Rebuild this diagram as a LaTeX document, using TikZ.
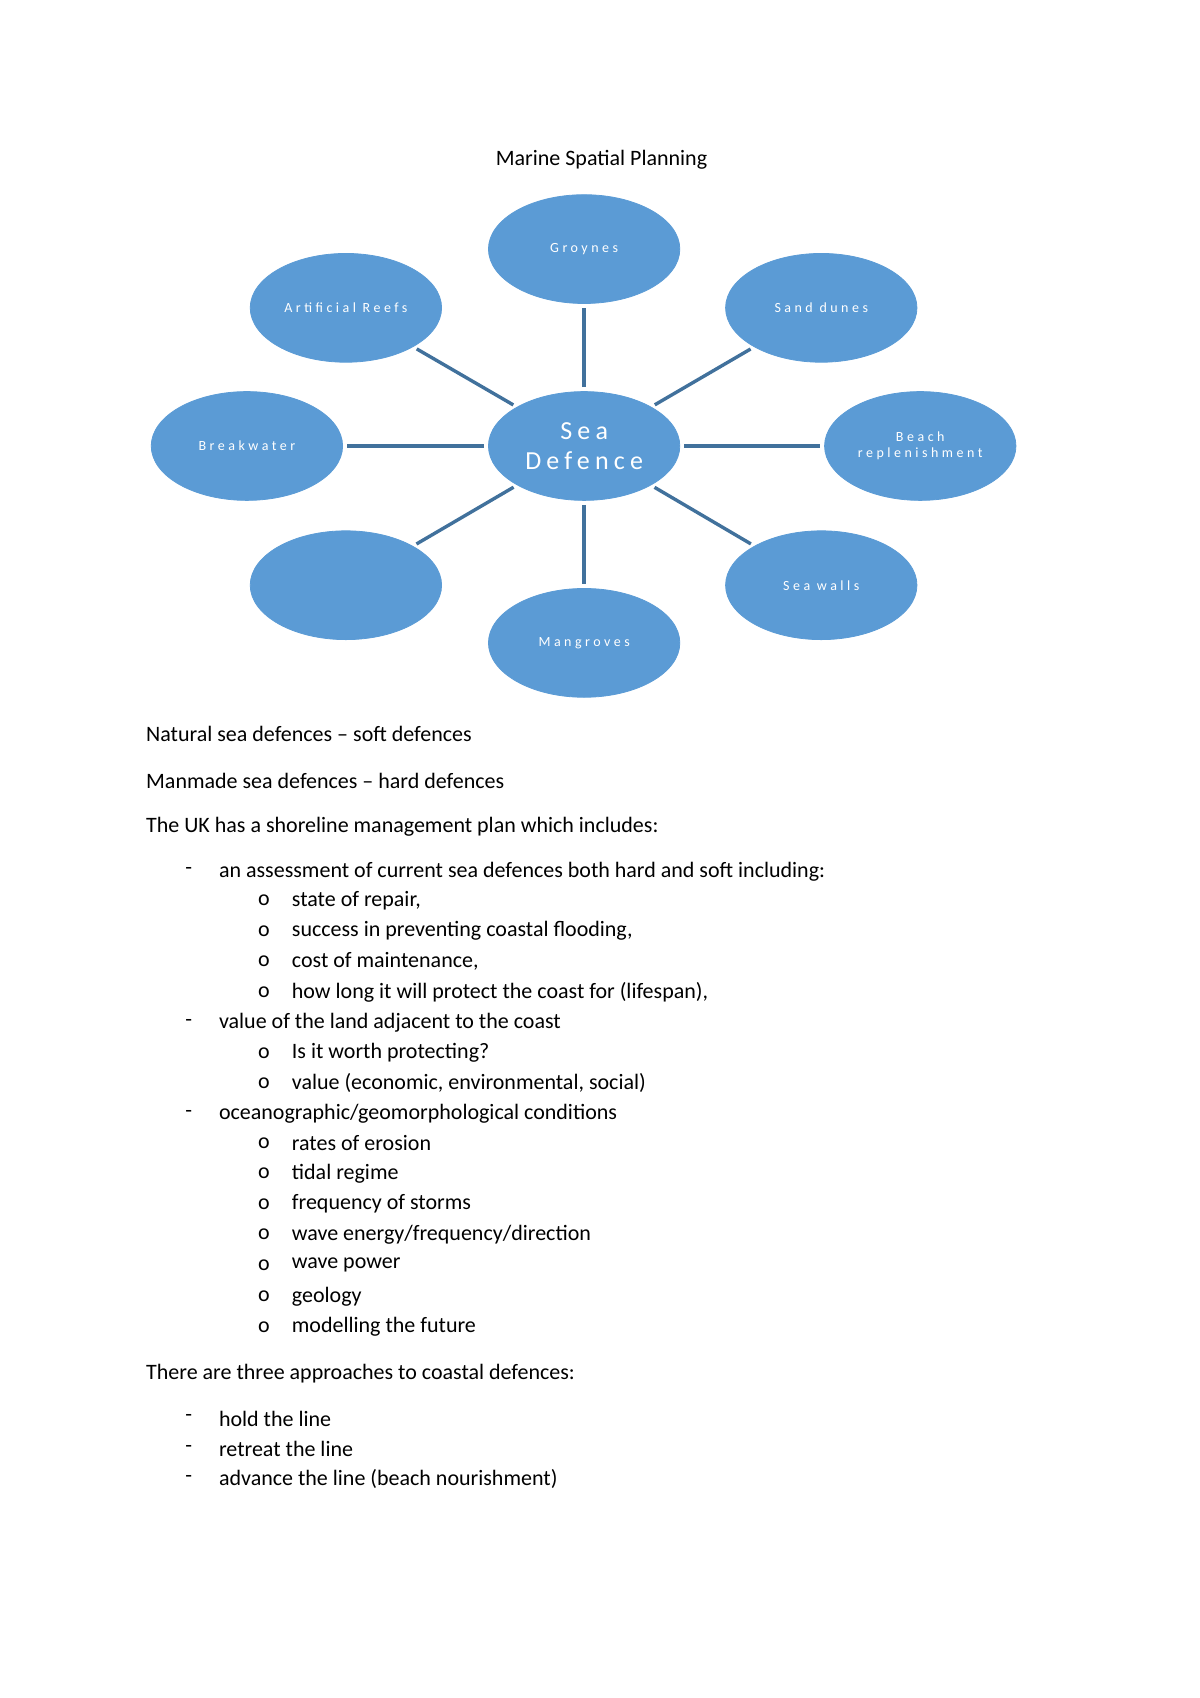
\documentclass[tikz,border=0pt]{standalone}
\usepackage{fontspec}
\setmainfont{Carlito}
\usetikzlibrary{shapes.geometric}
\begin{document}
\begin{tikzpicture}[x=0.544pt,y=-0.544pt,
  bub/.style={ellipse,fill=bubfill,draw=bubfill,minimum width=95.7pt,minimum height=54.4pt,inner sep=0pt,text=white,font=\fontsize{7}{8}\selectfont\addfontfeatures{LetterSpace=25},align=center},
  link/.style={draw=linkcol,line width=1.7pt,shorten >=2pt,shorten <=2pt},
  txt/.style={anchor=west,inner sep=0pt,font=\fontsize{11}{13}\selectfont}]
\definecolor{bubfill}{HTML}{5B9BD5}
\definecolor{linkcol}{HTML}{41719C}
\useasboundingbox (0,0) rectangle (1103,1561);
\node[txt,anchor=center] (title) at (553,147) {Marine Spatial Planning};
\node[bub,font=\fontsize{13}{15}\selectfont\addfontfeatures{LetterSpace=20}] (c) at (537,410) {Sea\\Defence};
\node[bub] (g) at (537,229) {Groynes};
\node[bub] (ar) at (318,283) {Artificial Reefs};
\node[bub] (sd) at (755,283) {Sand dunes};
\node[bub] (bw) at (227,410) {Breakwater};
\node[bub] (br) at (846,410) {Beach\\replenishment};
\node[bub] (bl) at (318,538) {};
\node[bub] (sw) at (755,538) {Sea walls};
\node[bub] (mg) at (537,591) {Mangroves};
\foreach \n in {g,ar,sd,bw,br,bl,sw,mg} \draw[link] (c) -- (\n);
\node[txt] (t1) at (134,675) {Natural sea defences – soft defences};
\node[txt] (t2) at (134,718) {Manmade sea defences – hard defences};
\node[txt] (t3) at (134,760) {The UK has a shoreline management plan which includes:};
\foreach \y/\s in {801/{an assessment of current sea defences both hard and soft including:},940/{value of the land adjacent to the coast},1024/{oceanographic/geomorphological conditions},1304/{hold the line},1332/{retreat the line},1360/{advance the line (beach nourishment)}}{
  \node[txt] at (170,\y) {-};
  \node[txt] at (201,\y) {\s};}
\foreach \y/\s in {828/{state of repair,},856/{success in preventing coastal flooding,},884/{cost of maintenance,},912/{how long it will protect the coast for (lifespan),},968/{Is it worth protecting?},996/{value (economic, environmental, social)},1051/{rates of erosion},1079/{tidal regime},1107/{frequency of storms},1135/{wave energy/frequency/direction},1163/{wave power},1192/{geology},1220/{modelling the future}}{
  \node[txt] at (237,\y) {o};
  \node[txt] at (268,\y) {\s};}
\node[txt] (t4) at (134,1263) {There are three approaches to coastal defences:};
\end{tikzpicture}
\end{document}
